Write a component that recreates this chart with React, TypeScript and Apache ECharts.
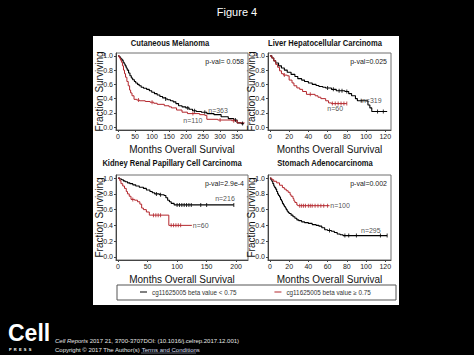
import { useEffect, useRef } from "react";
import * as echarts from "echarts";

const BLACK_NAME = "cg11625005 beta value < 0.75";
const RED_NAME = "cg11625005 beta value \u2265 0.75";

const panelTitles = [
  "Cutaneous Melanoma",
  "Liver Hepatocellular Carcinoma",
  "Kidney Renal Papillary Cell Carcinoma",
  "Stomach Adenocarcinoma",
];
const pValues = ["p-val= 0.058", "p-val=0.025", "p-val=2.9e-4", "p-val=0.002"];
const xTicks = [
  [0, 50, 100, 150, 200, 250, 300, 350],
  [0, 20, 40, 60, 80, 100, 120],
  [0, 50, 100, 150, 200],
  [0, 20, 40, 60, 80, 100, 120],
];
const yTicks = [0, 0.2, 0.4, 0.6, 0.8, 1.0];
const xTitle = "Months Overall Survival";
const yTitle = "Fraction Surviving";

// Kaplan-Meier curves: [month, fraction surviving after the step]
const melanomaLow = [[0,1],[3,0.99],[6,0.97],[9,0.955],[12,0.94],[15,0.91],[18,0.885],[21,0.86],[24,0.83],[27,0.8],[31,0.76],[35,0.72],[39,0.69],[43,0.665],[48,0.64],[52,0.62],[57,0.6],[62,0.58],[68,0.56],[75,0.545],[84,0.53],[92,0.51],[99,0.49],[107,0.47],[115,0.45],[123,0.43],[131,0.41],[140,0.395],[146,0.385],[154,0.37],[162,0.355],[170,0.33],[178,0.3],[188,0.285],[199,0.27],[209,0.25],[219,0.23],[230,0.22],[245,0.21],[261,0.19],[282,0.175],[303,0.145],[324,0.12],[340,0.1],[350,0.06],[362,0.05],[370,0.05]];
const melanomaHigh = [[0,1],[4,0.97],[7,0.94],[10,0.91],[13,0.86],[16,0.8],[19,0.75],[22,0.7],[26,0.64],[30,0.58],[34,0.52],[37,0.48],[41,0.44],[47,0.39],[55,0.38],[63,0.37],[80,0.36],[94,0.35],[105,0.335],[115,0.32],[136,0.3],[150,0.285],[157,0.27],[172,0.24],[188,0.21],[204,0.19],[240,0.175],[255,0.165],[261,0.11],[293,0.1],[334,0.09],[350,0.06],[372,0.06]];
const liverLow = [[0,1],[2,0.97],[4,0.93],[6,0.9],[9,0.86],[12,0.83],[15,0.8],[18,0.77],[22,0.74],[26,0.71],[29,0.68],[33,0.66],[36,0.64],[40,0.62],[44,0.6],[48,0.585],[51,0.57],[55,0.56],[58,0.55],[64,0.53],[69,0.51],[78,0.5],[82,0.47],[85,0.44],[89,0.4],[91,0.37],[102,0.31],[104,0.27],[106,0.22],[122,0.22]];
const liverHigh = [[0,1],[2,0.97],[4,0.93],[6,0.88],[8,0.84],[10,0.79],[12,0.75],[14,0.73],[18,0.72],[20,0.66],[23,0.62],[25,0.58],[28,0.55],[31,0.53],[34,0.5],[38,0.46],[47,0.44],[50,0.42],[53,0.4],[58,0.37],[61,0.34],[64,0.33],[80,0.33]];
const kidneyLow = [[0,1],[3,0.99],[6,0.98],[9,0.965],[12,0.955],[16,0.94],[20,0.93],[25,0.915],[30,0.9],[36,0.885],[43,0.87],[48,0.85],[54,0.83],[58,0.815],[62,0.8],[70,0.79],[78,0.78],[81,0.75],[84,0.72],[87,0.7],[90,0.68],[95,0.66],[196,0.66]];
const kidneyHigh = [[0,1],[3,0.967],[5,0.93],[8,0.9],[11,0.87],[14,0.83],[16,0.8],[19,0.77],[22,0.73],[28,0.72],[33,0.7],[37,0.67],[40,0.62],[43,0.6],[48,0.57],[53,0.53],[86,0.4],[125,0.4]];
const stomachLow = [[0,1],[1,0.98],[2,0.96],[3,0.93],[4,0.9],[5,0.88],[6,0.86],[7,0.83],[8,0.8],[9,0.78],[10,0.76],[11,0.73],[12,0.71],[13,0.68],[14,0.66],[15,0.64],[16,0.62],[17,0.6],[18,0.58],[19,0.565],[20,0.55],[22,0.53],[24,0.51],[26,0.49],[28,0.47],[30,0.46],[33,0.445],[36,0.435],[40,0.425],[44,0.41],[48,0.4],[51,0.39],[54,0.37],[57,0.345],[60,0.335],[64,0.325],[67,0.31],[70,0.29],[73,0.28],[76,0.27],[122,0.27]];
const stomachHigh = [[0,1],[2,0.98],[4,0.96],[7,0.94],[10,0.91],[13,0.88],[15,0.86],[17,0.84],[19,0.82],[21,0.79],[22,0.77],[24,0.74],[25,0.71],[26,0.69],[28,0.66],[29,0.65],[62,0.65]];

// censored observations
const melanomaLowCensor = [[140,0.395],[205,0.27],[225,0.23],[255,0.21],[345,0.1],[366,0.05]];
const melanomaHighCensor = [[60,0.38],[100,0.35],[220,0.19],[300,0.1],[340,0.09]];
const liverLowCensor = [[60,0.55],[66,0.53],[72,0.51],[75,0.51],[80,0.5],[95,0.37],[112,0.22],[118,0.22]];
const liverHighCensor = [[15,0.73],[42,0.46],[65,0.33],[68,0.33],[71,0.33],[74,0.33],[77,0.33],[80,0.33]];
const kidneyLowCensor = [[65,0.8],[72,0.79],[100,0.66],[104,0.66],[108,0.66],[112,0.66],[116,0.66],[120,0.66],[124,0.66],[140,0.66],[150,0.66],[196,0.66]];
const kidneyHighCensor = [[25,0.73],[60,0.53],[64,0.53],[68,0.53],[72,0.53],[90,0.4],[94,0.4],[98,0.4],[102,0.4],[106,0.4]];
const stomachLowCensor = [[62,0.335],[78,0.27],[82,0.27],[90,0.27],[115,0.27],[122,0.27]];
const stomachHighCensor = [[31,0.65],[33,0.65],[35,0.65],[37,0.65],[40,0.65],[42,0.65],[44,0.65],[47,0.65],[50,0.65],[53,0.65],[56,0.65],[60,0.65]];

// group sizes and where their labels sit (data coordinates)
const nLabels = [
  [{ text: "n=363", at: [294, 0.235] }, { text: "n=110", at: [220, 0.1] }],
  [{ text: "n=319", at: [106, 0.37] }, { text: "n=60", at: [68, 0.26] }],
  [{ text: "n=216", at: [181, 0.74] }, { text: "n=60", at: [140, 0.4] }],
  [{ text: "n=100", at: [73, 0.65] }, { text: "n=295", at: [105, 0.34] }],
];

const lowCurves = [melanomaLow, liverLow, kidneyLow, stomachLow];
const highCurves = [melanomaHigh, liverHigh, kidneyHigh, stomachHigh];
const lowCensors = [melanomaLowCensor, liverLowCensor, kidneyLowCensor, stomachLowCensor];
const highCensors = [melanomaHighCensor, liverHighCensor, kidneyHighCensor, stomachHighCensor];

const FONT = '"Liberation Sans", Arial, sans-serif';
const RED = "#b3262c";
const BLK = "#000000";

const layout = [
  { left: 116, top: 53, width: 132, height: 77, xMin: -6, xMax: 382, titleX: 170, titleY: 43 },
  { left: 268, top: 53, width: 123, height: 77, xMin: -2, xMax: 126, titleX: 325, titleY: 43 },
  { left: 116, top: 175, width: 132, height: 85, xMin: -3.4, xMax: 220, titleX: 172, titleY: 163 },
  { left: 268, top: 175, width: 123, height: 85, xMin: -2, xMax: 126, titleX: 325, titleY: 163 },
];

function buildOption() {
  const grid = layout.map((l) => ({
    left: l.left, top: l.top, width: l.width, height: l.height,
    show: true, borderColor: "#6e6e6e", borderWidth: 1, backgroundColor: "transparent",
  }));
  const xAxis = layout.map((l, i) => ({
    type: "value", gridIndex: i, min: l.xMin, max: l.xMax,
    name: xTitle, nameLocation: "middle", nameGap: 14,
    nameTextStyle: { fontFamily: FONT, fontSize: 10, color: "#111" },
    axisLine: { show: true, onZero: false, lineStyle: { color: "#444" } },
    axisTick: { show: true, length: 2, customValues: xTicks[i], lineStyle: { color: "#444" } },
    axisLabel: { show: true, customValues: xTicks[i], fontFamily: FONT, fontSize: 7, color: "#222", margin: 3 },
    splitLine: { show: false },
  }));
  const yAxis = layout.map((l, i) => ({
    type: "value", gridIndex: i, min: -0.04, max: 1.04,
    axisLine: { show: true, onZero: false, lineStyle: { color: "#444" } },
    axisTick: { show: true, length: 2, customValues: yTicks, lineStyle: { color: "#444" } },
    axisLabel: {
      show: true, customValues: yTicks, fontFamily: FONT, fontSize: 7, color: "#222", margin: 3,
      formatter: (v: number) => v.toFixed(1),
    },
    splitLine: { show: false },
  }));

  const series: any[] = [];
  for (let i = 0; i < 4; i++) {
    series.push({
      type: "line", name: BLACK_NAME, xAxisIndex: i, yAxisIndex: i, step: "end",
      data: lowCurves[i], symbol: "none", lineStyle: { color: BLK, width: 1.1 }, itemStyle: { color: BLK }, z: 3,
    });
    series.push({
      type: "line", name: RED_NAME, xAxisIndex: i, yAxisIndex: i, step: "end",
      data: highCurves[i], symbol: "none", lineStyle: { color: RED, width: 1 }, itemStyle: { color: RED }, z: 3,
    });
    series.push({
      type: "scatter", name: "censor-low-" + i, xAxisIndex: i, yAxisIndex: i,
      data: lowCensors[i], symbol: "rect", symbolSize: [1, 4], itemStyle: { color: BLK }, z: 4,
    });
    series.push({
      type: "scatter", name: "censor-high-" + i, xAxisIndex: i, yAxisIndex: i,
      data: highCensors[i], symbol: "rect", symbolSize: [1, 4], itemStyle: { color: RED }, z: 4,
    });
    series.push({
      type: "scatter", name: "nlab-" + i, xAxisIndex: i, yAxisIndex: i,
      data: nLabels[i].map((d) => ({ value: d.at, name: d.text })),
      symbolSize: 0,
      label: {
        show: true, position: "inside", formatter: (p: any) => p.name,
        fontFamily: FONT, fontSize: 7, color: "#222",
      },
      z: 5,
    });
  }

  const graphics: any[] = [
    { type: "rect", z: -10, shape: { x: 93, y: 36, width: 306, height: 269 }, style: { fill: "#ffffff" } },
    {
      type: "text", x: 237, y: 12,
      style: { text: "Figure 4", fill: "#ffffff", font: `11px ${FONT}`, textAlign: "center", textVerticalAlign: "middle", align: "center", verticalAlign: "middle" },
    },
    { type: "rect", shape: { x: 117, y: 285, width: 279, height: 15 }, style: { fill: "#ffffff", stroke: "#555", lineWidth: 1 } },
    {
      type: "text", x: 8, y: 333,
      style: { text: "Cell", fill: "#ffffff", font: `bold 23px ${FONT}`, textVerticalAlign: "middle", verticalAlign: "middle" },
    },
    {
      type: "text", x: 9, y: 349,
      style: { text: "P  R  E  S  S", fill: "#ffffff", font: `bold 4px ${FONT}`, textVerticalAlign: "middle", verticalAlign: "middle" },
    },
    {
      type: "text", x: 55, y: 341,
      style: {
        text: "{i|Cell Reports} 2017 21, 3700-3707DOI: (10.1016/j.celrep.2017.12.001)",
        rich: { i: { fontStyle: "italic", fontFamily: FONT, fontSize: 6, fill: "#e6e6e6", color: "#e6e6e6" } },
        fill: "#e6e6e6", font: `6px ${FONT}`, textVerticalAlign: "middle", verticalAlign: "middle",
      },
    },
    {
      type: "text", x: 55, y: 349.5,
      style: {
        text: "Copyright \u00a9 2017 The Author(s) {u|Terms and Conditions}",
        rich: { u: { fontFamily: FONT, fontSize: 6, fill: "#d8def0", color: "#d8def0" } },
        fill: "#e6e6e6", font: `6px ${FONT}`, textVerticalAlign: "middle", verticalAlign: "middle",
      },
    },
    { type: "line", shape: { x1: 141, y1: 353, x2: 196, y2: 353 }, style: { stroke: "#b8c2e0", lineWidth: 0.5 } },
  ];
  layout.forEach((l, i) => {
    graphics.push({
      type: "text", x: l.titleX, y: l.titleY, scaleX: 0.8,
      style: { text: panelTitles[i], fill: "#111", font: `bold 9.5px ${FONT}`, textAlign: "center", textVerticalAlign: "middle", align: "center", verticalAlign: "middle" },
    });
    graphics.push({
      type: "text", x: l.left + l.width - 4, y: l.top + 8,
      style: { text: pValues[i], fill: "#222", font: `7px ${FONT}`, textAlign: "right", textVerticalAlign: "middle", align: "right", verticalAlign: "middle" },
    });
    graphics.push({
      type: "text", x: l.left - 17, y: l.top + l.height / 2, rotation: Math.PI / 2,
      style: { text: yTitle, fill: "#111", font: `10px ${FONT}`, textAlign: "center", textVerticalAlign: "middle", align: "center", verticalAlign: "middle" },
    });
  });

  return {
    animation: false,
    backgroundColor: "#000000",
    grid, xAxis, yAxis, series,
    legend: {
      data: [BLACK_NAME, RED_NAME], left: 138, top: 287, itemGap: 38, icon: "rect",
      itemWidth: 7, itemHeight: 1, selectedMode: false, padding: 2,
      textStyle: { fontFamily: FONT, fontSize: 6.3, color: "#333" },
    },
    graphic: { elements: graphics },
  };
}

export default function App() {
  const ref = useRef<HTMLDivElement>(null);
  useEffect(() => {
    const chart = echarts.init(ref.current!, null, { renderer: "svg", width: 474, height: 355 });
    chart.setOption(buildOption() as any);
    return () => chart.dispose();
  }, []);
  return (
    <div
      ref={ref}
      style={{ position: "fixed", left: 0, top: 0, width: 474, height: 355, background: "#000" }}
    />
  );
}
